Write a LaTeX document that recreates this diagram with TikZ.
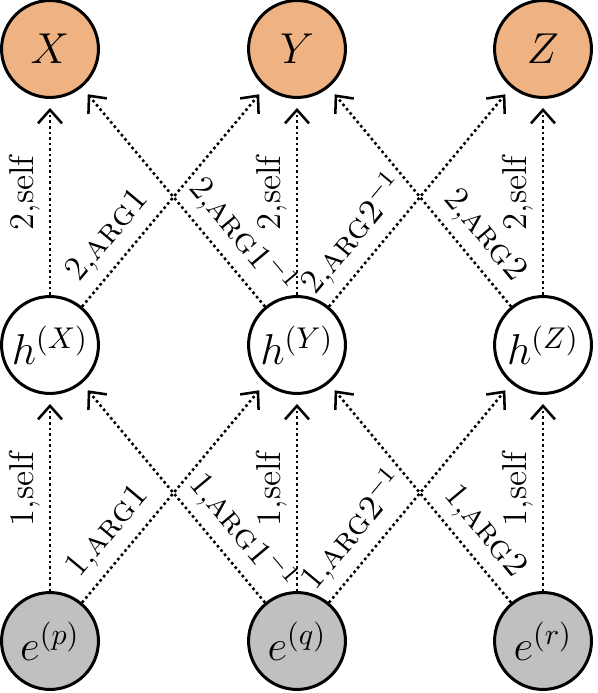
\documentclass[tikz,border=0pt]{standalone}
\usetikzlibrary{arrows.meta}
\definecolor{nodeorange}{RGB}{239,178,130}
\definecolor{nodegray}{RGB}{192,192,192}
\begin{document}
\begin{tikzpicture}[x=0.3333pt,y=-0.3333pt,
  var/.style={circle,draw,line width=1pt,minimum size=32.3pt,inner sep=0pt,font=\Large},
  outv/.style={var,fill=nodeorange},
  hidv/.style={var,fill=white},
  inv/.style={var,fill=nodegray},
  rel/.style={line width=0.85pt,dash pattern=on 0.85pt off 1pt,-{Straight Barb[length=4.5pt,width=8pt]},shorten >=3pt},
  lbl/.style={sloped,above,font=\fontsize{11.5}{13}\selectfont,inner sep=3pt}]
\useasboundingbox (0,0) rectangle (597,693);
\node[outv] (X) at (50,49) {$X$};
\node[outv] (Y) at (297,49) {$Y$};
\node[outv] (Z) at (543,49) {$Z$};
\node[hidv] (hX) at (50,345) {$h^{(X)}$};
\node[hidv] (hY) at (297,345) {$h^{(Y)}$};
\node[hidv] (hZ) at (543,345) {$h^{(Z)}$};
\node[inv] (ep) at (50,641) {$e^{(p)}$};
\node[inv] (eq) at (297,641) {$e^{(q)}$};
\node[inv] (er) at (543,641) {$e^{(r)}$};
% layer 2
\draw[rel] (hX) -- node[lbl,pos=0.52]{2,self} (X);
\draw[rel] (hY) -- node[lbl,pos=0.52]{2,self} (Y);
\draw[rel] (hZ) -- node[lbl,pos=0.52]{2,self} (Z);
\draw[rel] (hX) -- node[lbl,pos=0.25]{2,\textsc{arg1}} (Y);
\draw[rel] (hY) -- node[lbl,pos=0.24]{2,\textsc{arg1}$^{-1}$} (X);
\draw[rel] (hY) -- node[lbl,pos=0.25]{2,\textsc{arg2}$^{-1}$} (Z);
\draw[rel] (hZ) -- node[lbl,pos=0.25]{2,\textsc{arg2}} (Y);
% layer 1
\draw[rel] (ep) -- node[lbl,pos=0.52]{1,self} (hX);
\draw[rel] (eq) -- node[lbl,pos=0.52]{1,self} (hY);
\draw[rel] (er) -- node[lbl,pos=0.52]{1,self} (hZ);
\draw[rel] (ep) -- node[lbl,pos=0.25]{1,\textsc{arg1}} (hY);
\draw[rel] (eq) -- node[lbl,pos=0.24]{1,\textsc{arg1}$^{-1}$} (hX);
\draw[rel] (eq) -- node[lbl,pos=0.25]{1,\textsc{arg2}$^{-1}$} (hZ);
\draw[rel] (er) -- node[lbl,pos=0.25]{1,\textsc{arg2}} (hY);
\end{tikzpicture}
\end{document}
